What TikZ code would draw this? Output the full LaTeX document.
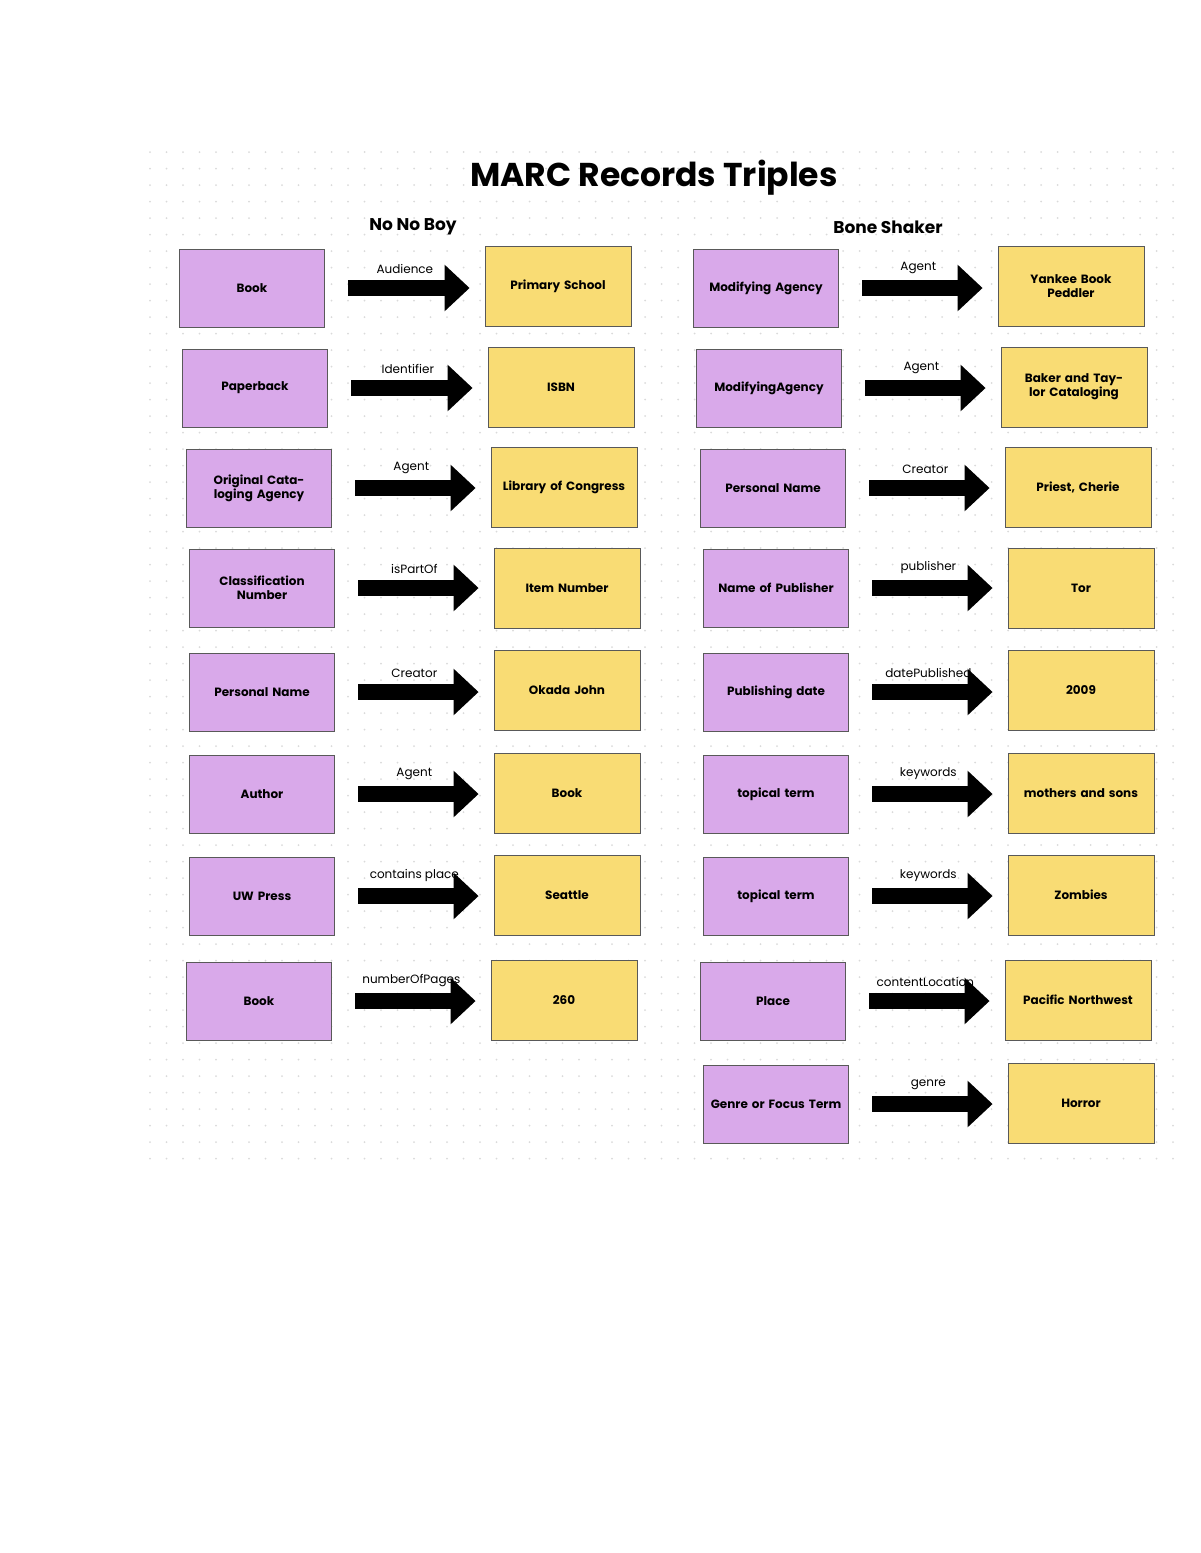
\documentclass[tikz,border=0pt]{standalone}
\usepackage{fontspec}
\setmainfont{Poppins}
\usetikzlibrary{arrows.meta, positioning}
\definecolor{lilac}{HTML}{D9A9EA}
\definecolor{sticky}{HTML}{F9DC74}
\definecolor{dotgray}{HTML}{DADADA}

\begin{document}
\begin{tikzpicture} [
        x = 0.5pt, y = -0.5pt,
        subj/.style = {draw=black!65, fill=lilac, minimum width=71.5pt, minimum height=39pt,
                       font=\fontsize{6}{7}\selectfont\bfseries, align=center, text width=66pt},
        obj/.style = {draw=black!65, fill=sticky, minimum width=73pt, minimum height=40pt,
                      font=\fontsize{6}{7}\selectfont\bfseries, align=center, text width=66pt},
        edge/.style = {draw, line width=8pt, -{Triangle[length=12.5pt, width=22.5pt]},
                       shorten <= 11.5pt, shorten >= 7.5pt},
        lbl/.style = {font=\fontsize{6}{7}\selectfont, above=3pt, inner sep=0pt}
    ]

    \useasboundingbox (0,0) rectangle (1200,1553);

    % dotted board
    \foreach \i in {0,...,62}
        \foreach \j in {0,...,61}
            \fill[dotgray] (150+16.5*\i, 152+16.5*\j) circle (0.5pt);

    \node[font=\fontsize{16.5}{18}\selectfont\bfseries] (title) at (654,178) {MARC Records Triples};
    \node[font=\fontsize{8.5}{10}\selectfont\bfseries] (nnb) at (413,227) {No No Boy};
    \node[font=\fontsize{8.5}{10}\selectfont\bfseries] (bs)  at (888,227) {Bone Shaker};

    % No No Boy
    \node[subj] (b1) at (252,288)  {Book};
    \node[subj] (b2) at (255,388)  {Paperback};
    \node[subj] (b3) at (259,488)  {Original Cataloging Agency};
    \node[subj] (b4) at (262,588)  {Classification Number};
    \node[subj] (b5) at (262,692)  {Personal Name};
    \node[subj] (b6) at (262,794)  {Author};
    \node[subj] (b7) at (262,896)  {UW Press};
    \node[subj] (b8) at (259,1001) {Book};

    \node[obj] (o1) at (558,286)  {Primary School};
    \node[obj] (o2) at (561,387)  {ISBN};
    \node[obj] (o3) at (564,487)  {Library of Congress};
    \node[obj] (o4) at (567,588)  {Item Number};
    \node[obj] (o5) at (567,690)  {Okada John};
    \node[obj] (o6) at (567,793)  {Book};
    \node[obj] (o7) at (567,895)  {Seattle};
    \node[obj] (o8) at (564,1000) {260};

    \path[edge] (b1.east) -- node[lbl] {Audience}       (b1.east -| o1.west);
    \path[edge] (b2.east) -- node[lbl] {Identifier}     (b2.east -| o2.west);
    \path[edge] (b3.east) -- node[lbl] {Agent}          (b3.east -| o3.west);
    \path[edge] (b4.east) -- node[lbl] {isPartOf}       (b4.east -| o4.west);
    \path[edge] (b5.east) -- node[lbl] {Creator}        (b5.east -| o5.west);
    \path[edge] (b6.east) -- node[lbl] {Agent}          (b6.east -| o6.west);
    \path[edge] (b7.east) -- node[lbl] {contains place} (b7.east -| o7.west);
    \path[edge] (b8.east) -- node[lbl] {numberOfPages}  (b8.east -| o8.west);

    % Bone Shaker
    \node[subj] (c1) at (766,288)  {Modifying Agency};
    \node[subj] (c2) at (769,388)  {ModifyingAgency};
    \node[subj] (c3) at (773,488)  {Personal Name};
    \node[subj] (c4) at (776,588)  {Name of Publisher};
    \node[subj] (c5) at (776,692)  {Publishing date};
    \node[subj] (c6) at (776,794)  {topical term};
    \node[subj] (c7) at (776,896)  {topical term};
    \node[subj] (c8) at (773,1001) {Place};
    \node[subj] (c9) at (776,1104) {Genre or Focus Term};

    \node[obj] (p1) at (1071,286)  {Yankee Book Peddler};
    \node[obj] (p2) at (1074,387)  {Baker and Taylor Cataloging};
    \node[obj] (p3) at (1078,487)  {Priest, Cherie};
    \node[obj] (p4) at (1081,588)  {Tor};
    \node[obj] (p5) at (1081,690)  {2009};
    \node[obj] (p6) at (1081,793)  {mothers and sons};
    \node[obj] (p7) at (1081,895)  {Zombies};
    \node[obj] (p8) at (1078,1000) {Pacific Northwest};
    \node[obj] (p9) at (1081,1103) {Horror};

    \path[edge] (c1.east) -- node[lbl] {Agent}           (c1.east -| p1.west);
    \path[edge] (c2.east) -- node[lbl] {Agent}           (c2.east -| p2.west);
    \path[edge] (c3.east) -- node[lbl] {Creator}         (c3.east -| p3.west);
    \path[edge] (c4.east) -- node[lbl] {publisher}       (c4.east -| p4.west);
    \path[edge] (c5.east) -- node[lbl] {datePublished}   (c5.east -| p5.west);
    \path[edge] (c6.east) -- node[lbl] {keywords}        (c6.east -| p6.west);
    \path[edge] (c7.east) -- node[lbl] {keywords}        (c7.east -| p7.west);
    \path[edge] (c8.east) -- node[lbl] {contentLocation} (c8.east -| p8.west);
    \path[edge] (c9.east) -- node[lbl] {genre}           (c9.east -| p9.west);

\end{tikzpicture}
\end{document}
